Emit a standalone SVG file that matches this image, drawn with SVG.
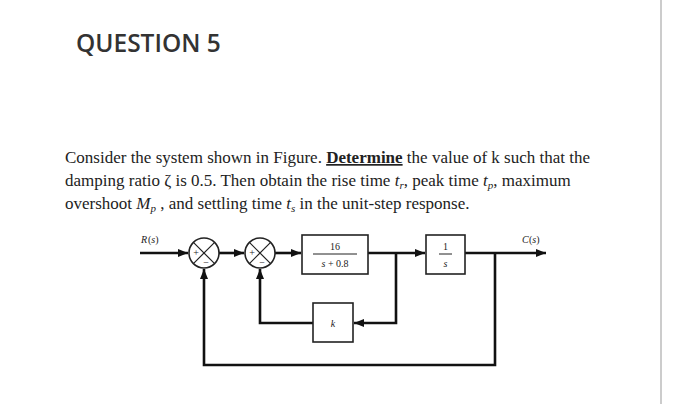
<svg xmlns="http://www.w3.org/2000/svg" width="700" height="404" viewBox="0 0 700 404">
<style>
.t{font-family:"Liberation Serif",serif;font-size:17px;fill:#222}
.w{stroke:#111;stroke-width:2.6;fill:none}
.b{fill:#fff;stroke:#222;stroke-width:1.6}
.m{font-family:"Liberation Serif",serif;font-size:10px;fill:#222}
</style>
<defs><marker id="a" viewBox="0 0 10 10" refX="10" refY="5" markerWidth="4" markerHeight="4" orient="auto"><path d="M0,1L10,5L0,9z" fill="#111"/></marker></defs>
<rect width="700" height="404" fill="#fff"/>
<line x1="661" y1="0" x2="661" y2="404" stroke="#bbb" stroke-width="1.5"/>
<text x="76" y="52" font-family="'Open Sans',sans-serif" font-size="24.5" font-weight="600" fill="#333">QUESTION 5</text>
<text class="t" x="65" y="163">Consider the system shown in Figure. <tspan font-weight="bold" text-decoration="underline">Determine</tspan> the value of k such that the</text>
<text class="t" x="65" y="186">damping ratio ζ is 0.5. Then obtain the rise time <tspan font-style="italic">t</tspan><tspan font-style="italic" font-size="11" dy="3">r</tspan><tspan dy="-3">, peak time </tspan><tspan font-style="italic">t</tspan><tspan font-style="italic" font-size="11" dy="3">p</tspan><tspan dy="-3">, maximum</tspan></text>
<text class="t" x="65" y="209">overshoot <tspan font-style="italic">M</tspan><tspan font-style="italic" font-size="11" dy="3">p</tspan><tspan dy="-3"> , and settling time </tspan><tspan font-style="italic">t</tspan><tspan font-style="italic" font-size="11" dy="3">s</tspan><tspan dy="-3"> in the unit-step response.</tspan></text>
<g id="connectors">
<path class="w" d="M140,253H188" marker-end="url(#a)"/>
<path class="w" d="M219,253H244" marker-end="url(#a)"/>
<path class="w" d="M275,253H301" marker-end="url(#a)"/>
<path class="w" d="M368,253H425" marker-end="url(#a)"/>
<path class="w" d="M465,253H546" marker-end="url(#a)"/>
<path class="w" d="M396,253V323H354" marker-end="url(#a)"/>
<path class="w" d="M313,323H260V269" marker-end="url(#a)"/>
<path class="w" d="M495,253V365H204V269" marker-end="url(#a)"/>
</g>
<g id="sum1"><circle cx="204" cy="253" r="15" class="b"/><path d="M193.4,242.4L214.6,263.6M214.6,242.4L193.4,263.6" stroke="#222" stroke-width="1.2"/><text class="m" x="196" y="256" text-anchor="middle" font-size="8">+</text><text class="m" x="206" y="266" text-anchor="middle" font-size="8">−</text></g>
<g id="sum2"><circle cx="260" cy="253" r="15" class="b"/><path d="M249.4,242.4L270.6,263.6M270.6,242.4L249.4,263.6" stroke="#222" stroke-width="1.2"/><text class="m" x="252" y="256" text-anchor="middle" font-size="8">+</text><text class="m" x="262" y="266" text-anchor="middle" font-size="8">−</text></g>
<g id="g1"><rect x="302" y="235" width="66" height="39" class="b"/><text class="m" x="335" y="250" text-anchor="middle">16</text><line x1="313" y1="254" x2="357" y2="254" stroke="#222"/><text class="m" x="335" y="267" text-anchor="middle"><tspan font-style="italic">s</tspan> + 0.8</text></g>
<g id="g2"><rect x="426" y="235" width="39" height="39" class="b"/><text class="m" x="445.5" y="250" text-anchor="middle">1</text><line x1="439" y1="254" x2="452" y2="254" stroke="#222"/><text class="m" x="445.5" y="267" text-anchor="middle" font-style="italic">s</text></g>
<g id="k"><rect x="313" y="303" width="40" height="39" class="b"/><text class="m" x="333" y="327" text-anchor="middle" font-style="italic">k</text></g>
<text class="m" x="141" y="243" font-style="italic">R</text><text class="m" x="148" y="243">(<tspan font-style="italic">s</tspan>)</text>
<text class="m" x="522" y="243" font-style="italic">C</text><text class="m" x="529" y="243">(<tspan font-style="italic">s</tspan>)</text>
</svg>
